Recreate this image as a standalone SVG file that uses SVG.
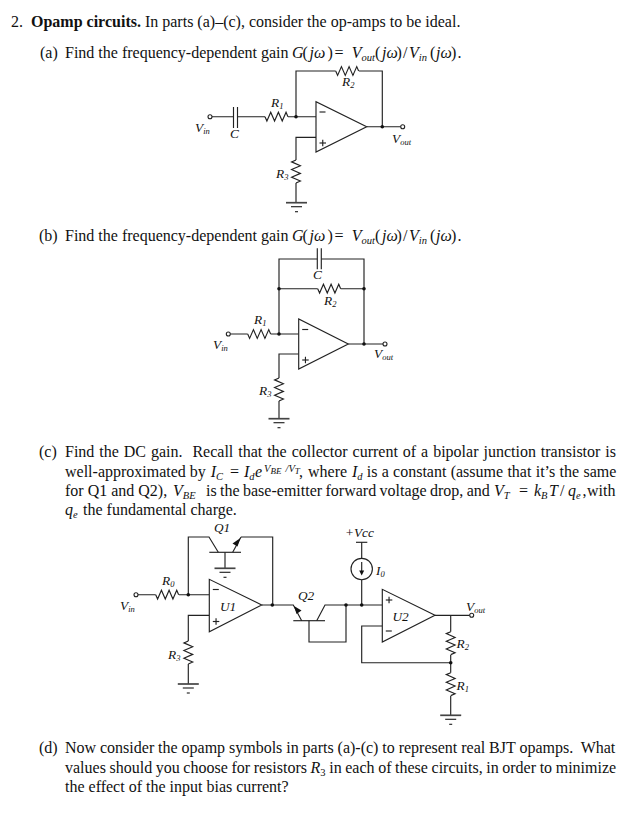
<svg xmlns="http://www.w3.org/2000/svg" width="634" height="818" viewBox="0 0 634 818">
<style>
text{font-family:"Liberation Serif","Times New Roman",serif;fill:#111}
.t{font-size:16px}
.i{font-style:italic}
.b{font-weight:bold}
.s{font-size:10.5px;font-style:italic}
.ss{font-size:9px;font-style:italic}
.l{font-size:13.3px;font-style:italic}
.ls{font-size:8.5px;font-style:italic}
.k,.w path{fill:none;stroke:#222;stroke-width:1.15}
.g{fill:none;stroke:#444;stroke-width:1.7}
.d{fill:#111;stroke:none}
.o{fill:#fff;stroke:#222;stroke-width:1.1}
.a{fill:#111;stroke:none}
.p{fill:#fff;stroke:#222;stroke-width:1.15}
</style>
<defs>
<path id="rh" class="k" d="M0 0l1.9 4.4l3.83 -8.8l3.83 8.8l3.83 -8.8l3.83 8.8l3.83 -8.8l1.9 4.4"/>
<g id="gnd"><line class="g" x1="-10.5" x2="10.5" y1="0" y2="0"/><line class="k" x1="-5.5" x2="5.5" y1="4" y2="4"/><line class="k" x1="-1.5" x2="1.5" y1="9" y2="9"/></g>
<g id="capv"><line class="k" x1="-2" x2="-2" y1="-10.5" y2="10.5"/><line class="k" x1="2" x2="2" y1="-10.5" y2="10.5"/></g>
<g id="ms"><line class="k" x1="3.5" x2="9.5" y1="0" y2="0"/></g>
<g id="pl"><line class="k" x1="3.5" x2="10" y1="0" y2="0"/><line class="k" x1="6.75" x2="6.75" y1="-3.25" y2="3.25"/></g>
</defs>

<g id="text-body">
<text class="t" x="11" y="27" xml:space="preserve">2.  <tspan class="b">Opamp circuits.</tspan> In parts (a)–(c), consider the op-amps to be ideal.</text>
<text class="t" x="40" y="58">(a)</text>
<text class="t" x="65" y="58">Find the frequency-dependent gain <tspan class="i" x="292">G</tspan><tspan x="302.5">(</tspan><tspan class="i" x="309.5">jω</tspan><tspan x="327.5">)</tspan> <tspan x="334.5">=</tspan> <tspan class="i" x="351.7">V</tspan><tspan class="s" dy="3">out</tspan><tspan dy="-3" x="375">(</tspan><tspan class="i" x="382">jω</tspan><tspan x="396.5">)</tspan><tspan x="403">/</tspan><tspan class="i" x="409">V</tspan><tspan class="s" dy="3">in</tspan><tspan dy="-3" x="430">(</tspan><tspan class="i" x="436">jω</tspan><tspan x="451">)</tspan><tspan x="457.5">.</tspan></text>
<text class="t" x="39" y="241">(b)</text>
<text class="t" x="65" y="241">Find the frequency-dependent gain <tspan class="i" x="292">G</tspan><tspan x="302.5">(</tspan><tspan class="i" x="309.5">jω</tspan><tspan x="327.5">)</tspan> <tspan x="334.5">=</tspan> <tspan class="i" x="351.7">V</tspan><tspan class="s" dy="3">out</tspan><tspan dy="-3" x="375">(</tspan><tspan class="i" x="382">jω</tspan><tspan x="396.5">)</tspan><tspan x="403">/</tspan><tspan class="i" x="409">V</tspan><tspan class="s" dy="3">in</tspan><tspan dy="-3" x="430">(</tspan><tspan class="i" x="436">jω</tspan><tspan x="451">)</tspan><tspan x="457.5">.</tspan></text>
<text class="t" x="39" y="457">(c)</text>
<text class="t" x="65" y="457" word-spacing="0.95" xml:space="preserve">Find the DC gain.  Recall that the collector current of a bipolar junction transistor is</text>
<text class="t" x="65" y="477">well-approximated by <tspan class="i" x="210.7">I</tspan><tspan class="s" dy="3">C</tspan><tspan dy="-3" x="230">=</tspan><tspan class="i" x="244">I</tspan><tspan class="s" dy="3">d</tspan><tspan class="i" dy="-3" x="255">e</tspan><tspan class="s" dy="-5" x="264">V</tspan><tspan class="ss" dy="1.5">BE</tspan><tspan class="s" dy="-1.5" x="285.5">/V</tspan><tspan class="ss" dy="1.5">T</tspan><tspan dy="3.5" x="299">,</tspan><tspan x="308">where</tspan><tspan class="i" x="352">I</tspan><tspan class="s" dy="3">d</tspan><tspan dy="-3" x="366.7" word-spacing="0.3">is a constant (assume that it’s the same</tspan></text>
<text class="t" x="65" y="495.5">for Q1 and Q2), <tspan class="i" x="173">V</tspan><tspan class="s" dy="3">BE</tspan><tspan dy="-3" x="206" word-spacing="-0.6">is the base-emitter forward voltage drop, and</tspan><tspan class="i" x="494">V</tspan><tspan class="s" dy="3">T</tspan><tspan dy="-3" x="519">=</tspan><tspan class="i" x="534">k</tspan><tspan class="s" dy="3">B</tspan><tspan class="i" dy="-3" x="549">T</tspan><tspan x="560">/</tspan><tspan class="i" x="568">q</tspan><tspan class="s" dy="3">e</tspan><tspan dy="-3" x="582.5">,</tspan><tspan x="587">with</tspan></text>
<text class="t" x="65" y="514.5"><tspan class="i">q</tspan><tspan class="s" dy="3">e</tspan><tspan dy="-3" x="83">the fundamental charge.</tspan></text>
<text class="t" x="39" y="753">(d)</text>
<text class="t" x="65" y="753" word-spacing="-0.1" xml:space="preserve">Now consider the opamp symbols in parts (a)-(c) to represent real BJT opamps.  What</text>
<text class="t" x="65" y="773" word-spacing="-0.4">values should you choose for resistors <tspan class="i">R</tspan><tspan class="s" dy="3" style="font-style:normal">3</tspan><tspan dy="-3"> in each of these circuits, in order to minimize</tspan></text>
<text class="t" x="65" y="792">the effect of the input bias current?</text>
</g>

<g id="connectors" class="w">
<path d="M212 116.7H233.5M237.5 116.7H265M288 116.7H316M296 116.7V71H335.7M359 71H382.3V126.7M366.7 126.7H400.7M316 137.3H296V160M296 183V202.7"/>
<path d="M230.3 334H247.7M270.7 334H298.7M279 334V259H317.3M321.3 259H364V344M279 288.7H317.7M340.7 288.7H364M348.3 344H383M298.7 354H279V378M279 401V418.7"/>
<path d="M138 594.7H155.7M179 594.7H209.3M188.3 594.7V537H209L218.3 552.3M241 537H272.7V605M225 552.3V568.3M261.7 605H293.3L301.7 620.7M209.3 615.3H188.3V641M188.3 664V684"/>
<path d="M309 620.7V642H346V605M316.7 620.7L325 605H382.3M361.7 542.3V558.3M361.7 579.7V605M435 615.3H469.7M450.7 615.3V631.7M450.7 655V672.7M450.7 696V715.3M382.3 626H361.7V662.7H450.7"/>
</g>

<g id="circuit-a">
<g id="a-vin"><circle class="o" cx="210" cy="116.7" r="2"/><text class="l" x="195" y="132">V<tspan class="ls" dy="2">in</tspan></text></g>
<g id="a-c"><use href="#capv" x="235.5" y="117.5"/><text class="l" x="230" y="138">C</text></g>
<g id="a-r1"><use href="#rh" x="265" y="116.7"/><text class="l" x="271" y="107">R<tspan class="ls" dy="2">1</tspan></text></g>
<g id="a-r2"><use href="#rh" x="335.7" y="71"/><text class="l" x="342" y="86">R<tspan class="ls" dy="2">2</tspan></text></g>
<g id="a-r3"><use href="#rh" transform="translate(296 160) rotate(90)"/><text class="l" x="276" y="178">R<tspan class="ls" dy="2">3</tspan></text></g>
<g id="a-opamp"><polygon class="p" points="316,101.7 316,152 366.7,126.7"/><use href="#ms" x="316" y="112"/><use href="#pl" x="316" y="143"/></g>
<g id="a-j1"><circle class="d" cx="296" cy="116.7" r="1.8"/></g>
<g id="a-j2"><circle class="d" cx="382.3" cy="126.7" r="1.8"/></g>
<g id="a-vout"><circle class="o" cx="402.7" cy="126.7" r="2"/><text class="l" x="392" y="143">V<tspan class="ls" dy="2">out</tspan></text></g>
<g id="a-gnd"><use href="#gnd" x="296.5" y="202.7"/></g>
</g>

<g id="circuit-b">
<g id="b-vin"><circle class="o" cx="228.3" cy="334" r="2"/><text class="l" x="213" y="349">V<tspan class="ls" dy="2">in</tspan></text></g>
<g id="b-c"><use href="#capv" x="319.3" y="258.8"/><text class="l" x="313" y="279">C</text></g>
<g id="b-r1"><use href="#rh" x="247.7" y="334"/><text class="l" x="254" y="324">R<tspan class="ls" dy="2">1</tspan></text></g>
<g id="b-r2"><use href="#rh" x="317.7" y="288.7"/><text class="l" x="324" y="305">R<tspan class="ls" dy="2">2</tspan></text></g>
<g id="b-r3"><use href="#rh" transform="translate(279 378) rotate(90)"/><text class="l" x="259" y="395">R<tspan class="ls" dy="2">3</tspan></text></g>
<g id="b-opamp"><polygon class="p" points="298.7,319 298.7,369 348.3,344"/><use href="#ms" x="298.7" y="329.5"/><use href="#pl" x="298.7" y="360"/></g>
<g id="b-j1"><circle class="d" cx="279" cy="288.7" r="1.8"/></g>
<g id="b-j2"><circle class="d" cx="364" cy="288.7" r="1.8"/></g>
<g id="b-j3"><circle class="d" cx="279" cy="334" r="1.8"/></g>
<g id="b-j4"><circle class="d" cx="364" cy="344" r="1.8"/></g>
<g id="b-vout"><circle class="o" cx="385" cy="344" r="2"/><text class="l" x="374" y="358">V<tspan class="ls" dy="2">out</tspan></text></g>
<g id="b-gnd"><use href="#gnd" x="279" y="418.7"/></g>
</g>

<g id="circuit-c">
<g id="c-vin"><circle class="o" cx="136" cy="594.7" r="2"/><text class="l" x="120" y="610">V<tspan class="ls" dy="2">in</tspan></text></g>
<g id="c-r0"><use href="#rh" x="155.7" y="594.7"/><text class="l" x="162" y="585">R<tspan class="ls" dy="2">0</tspan></text></g>
<g id="c-r3"><use href="#rh" transform="translate(188.3 641) rotate(90)"/><text class="l" x="168" y="659">R<tspan class="ls" dy="2">3</tspan></text></g>
<g id="c-q1"><line class="k" x1="209.3" x2="241" y1="552.3" y2="552.3"/><line class="k" x1="232.7" x2="241" y1="552.3" y2="537"/><polygon class="a" points="240.5,538 232.5,543.5 237.5,546.5"/><text class="l" x="214" y="532">Q1</text></g>
<g id="c-gnd1"><use href="#gnd" x="225" y="568.3"/></g>
<g id="c-u1"><polygon class="p" points="209.3,579.3 209.3,631.7 261.7,605"/><use href="#ms" x="209.3" y="589.5"/><use href="#pl" x="209.3" y="621.5"/><text class="l" x="220" y="611">U1</text></g>
<g id="c-j1"><circle class="d" cx="188.3" cy="594.7" r="1.8"/></g>
<g id="c-j2"><circle class="d" cx="272.3" cy="605" r="1.8"/></g>
<g id="c-gnd2"><use href="#gnd" x="188.3" y="684"/></g>
<g id="c-q2"><line class="k" x1="293.3" x2="325" y1="620.7" y2="620.7"/><polygon class="a" points="294,606 301.5,610.5 296.5,614"/><text class="l" x="298" y="600">Q2</text></g>
<g id="c-j3"><circle class="d" cx="346" cy="605" r="1.8"/></g>
<g id="c-j4"><circle class="d" cx="361.7" cy="605" r="1.8"/></g>
<g id="c-vcc"><line class="k" x1="356" x2="367.3" y1="542.3" y2="542.3"/><text class="l" x="345" y="537">+Vcc</text></g>
<g id="c-i0"><circle class="k" cx="361.7" cy="569" r="10.7"/><line class="k" x1="361.7" x2="361.7" y1="562" y2="572"/><polygon class="a" points="359.2,570.5 364.2,570.5 361.7,575.5"/><text class="l" x="376" y="575">I<tspan class="ls" dy="2">0</tspan></text></g>
<g id="c-u2"><polygon class="p" points="382.3,589.3 382.3,642 435,615.3"/><use href="#pl" x="382.3" y="600"/><use href="#ms" x="382.3" y="631"/><text class="l" x="392.5" y="621">U2</text></g>
<g id="c-vout"><circle class="o" cx="471.7" cy="615.3" r="2"/><text class="l" x="466" y="611">V<tspan class="ls" dy="2">out</tspan></text></g>
<g id="c-r2"><use href="#rh" transform="translate(450.7 631.7) rotate(90)"/><text class="l" x="456.5" y="648">R<tspan class="ls" dy="2">2</tspan></text></g>
<g id="c-j5"><circle class="d" cx="450.7" cy="662.7" r="1.8"/></g>
<g id="c-r1"><use href="#rh" transform="translate(450.7 672.7) rotate(90)"/><text class="l" x="456.5" y="690">R<tspan class="ls" dy="2">1</tspan></text></g>
<g id="c-gnd3"><use href="#gnd" x="450.7" y="715.3"/></g>
</g>
</svg>
